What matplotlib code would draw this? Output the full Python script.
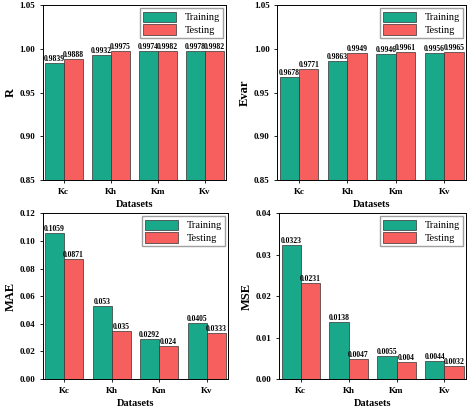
import numpy as np
import matplotlib.pyplot as plt

plt.rcParams['font.family'] = ['Liberation Serif', 'DejaVu Serif']
plt.rcParams['font.weight'] = 'bold'

datasets = ['Kc', 'Kh', 'Km', 'Kv']
r_train = [0.9839, 0.9932, 0.9974, 0.9978]
r_test = [0.9888, 0.9975, 0.9982, 0.9982]
evar_train = [0.9678, 0.9863, 0.9946, 0.9956]
evar_test = [0.9771, 0.9949, 0.9961, 0.9965]
mae_train = [0.1059, 0.053, 0.0292, 0.0405]
mae_test = [0.0871, 0.035, 0.024, 0.0333]
mse_train = [0.0323, 0.0138, 0.0055, 0.0044]
mse_test = [0.0231, 0.0047, 0.004, 0.0032]

panels = [
    ('R', r_train, r_test, (0.85, 1.05), np.arange(0.85, 1.051, 0.05), [0.090, 0.562, 0.387, 0.425]),
    ('Evar', evar_train, evar_test, (0.85, 1.05), np.arange(0.85, 1.051, 0.05), [0.585, 0.562, 0.398, 0.425]),
    ('MAE', mae_train, mae_test, (0.0, 0.12), np.arange(0, 0.121, 0.02), [0.090, 0.078, 0.391, 0.403]),
    ('MSE', mse_train, mse_test, (0.0, 0.04), np.arange(0, 0.041, 0.01), [0.589, 0.078, 0.394, 0.403]),
]

fig = plt.figure(figsize=(4.74, 4.11), dpi=100)
x = np.arange(len(datasets))
w = 0.4
for name, tr, te, ylim, ticks, rect in panels:
    ax = fig.add_axes(rect)
    b1 = ax.bar(x - w / 2, tr, w, color='#1aa88a', edgecolor='#333333', linewidth=0.5, label='Training')
    b2 = ax.bar(x + w / 2, te, w, color='#f75f5f', edgecolor='#333333', linewidth=0.5, label='Testing')
    ax.bar_label(b1, labels=[str(v) for v in tr], fontsize=5.5, fontweight='bold', padding=0)
    ax.bar_label(b2, labels=[str(v) for v in te], fontsize=5.5, fontweight='bold', padding=0)
    ax.set_xlim(-0.45, 3.45)
    ax.set_ylim(*ylim)
    ax.set_yticks(ticks)
    ax.set_yticklabels(['%.2f' % t for t in ticks])
    ax.set_xticks(x)
    ax.set_xticklabels(datasets)
    ax.tick_params(labelsize=6.5, length=2, width=0.6)
    ax.set_ylabel(name, fontsize=9, fontweight='bold', labelpad=2)
    ax.set_xlabel('Datasets', fontsize=7.5, fontweight='bold', labelpad=3)
    for s in ax.spines.values():
        s.set_linewidth(0.7)
    ax.legend(loc='upper right', frameon=True, fancybox=False, edgecolor='#888888',
              borderpad=0.3, handlelength=3.2, handleheight=1.2, labelspacing=0.15, borderaxespad=0.3,
              prop={'weight': 'normal', 'size': 7.5})

fig.savefig('out.png', dpi=100)
